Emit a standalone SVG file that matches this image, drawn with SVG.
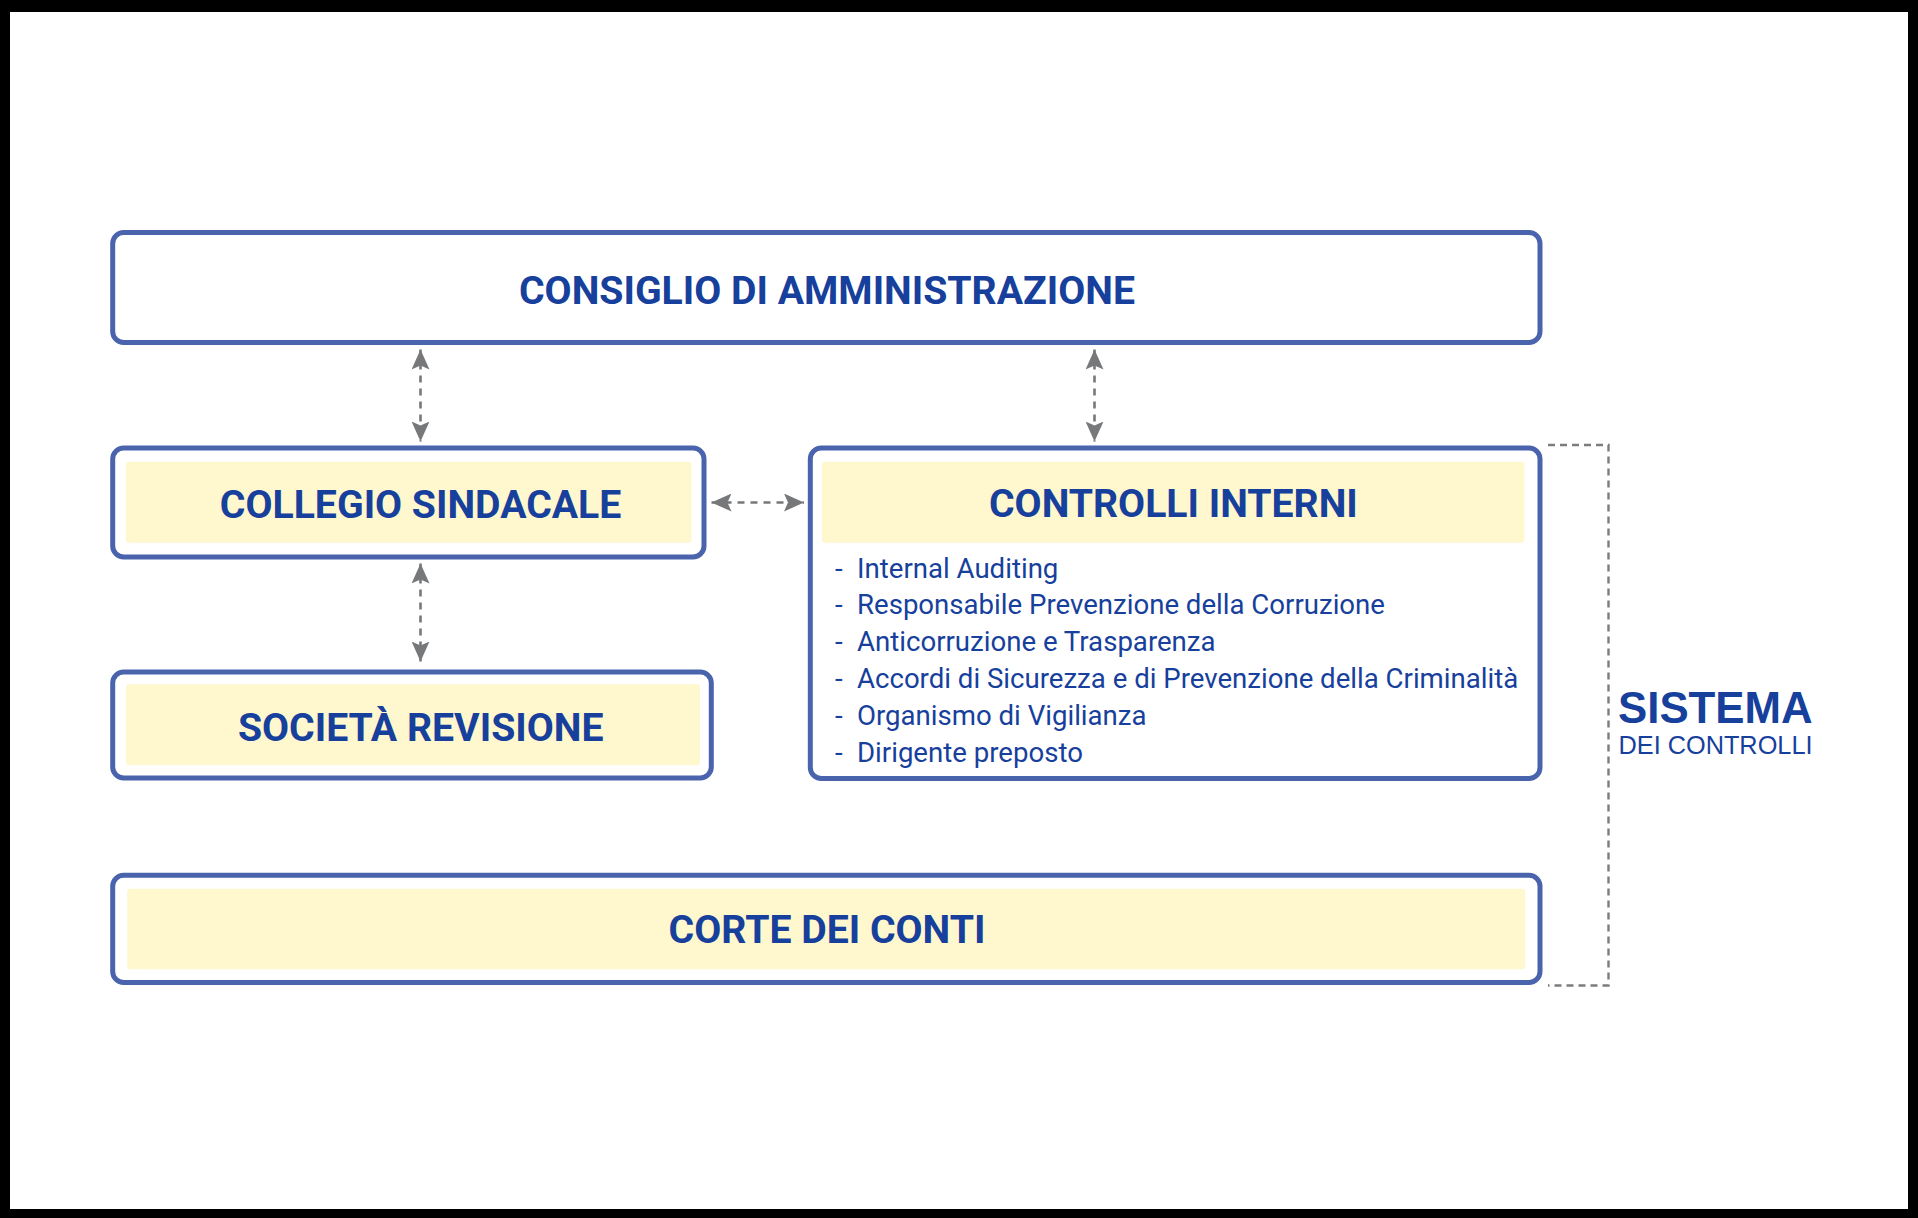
<svg xmlns="http://www.w3.org/2000/svg" width="1918" height="1218" viewBox="0 0 1918 1218">
<style>
.box{fill:#ffffff;stroke:#4A63AD;stroke-width:5}
.hl{fill:#FFF7CE}
.title{font-family:Roboto,"Liberation Sans",sans-serif;font-weight:700;font-size:39.2px;fill:#16409C;text-anchor:middle}
.item{font-family:Roboto,"Liberation Sans",sans-serif;font-weight:400;font-size:27.6px;fill:#16409C}
.conn{stroke:#76787A;stroke-width:2.6;stroke-dasharray:7 6;fill:none}
.brk{stroke:#7A7C7E;stroke-width:2.4;stroke-dasharray:7 5;fill:none}
.sys{font-family:"Liberation Sans",Arial,sans-serif;fill:#16409C}
</style>
<defs>
<marker id="ah" viewBox="0 0 20 18" refX="20" refY="9" markerWidth="20" markerHeight="18" markerUnits="userSpaceOnUse" orient="auto-start-reverse">
<path d="M0,0 L20,9 L0,18 L4,9 Z" fill="#76787A"/>
</marker>
</defs>
<rect x="0" y="0" width="1918" height="1218" fill="#000000"/>
<rect x="10" y="12" width="1898" height="1197" fill="#ffffff"/>

<g id="connectors">
<line class="conn" x1="420.5" y1="349.5" x2="420.5" y2="441.5" marker-start="url(#ah)" marker-end="url(#ah)"/>
<line class="conn" x1="1094.5" y1="349.5" x2="1094.5" y2="441.5" marker-start="url(#ah)" marker-end="url(#ah)"/>
<line class="conn" x1="420.5" y1="563.5" x2="420.5" y2="661.5" marker-start="url(#ah)" marker-end="url(#ah)"/>
<line class="conn" x1="711.5" y1="502.5" x2="804" y2="502.5" marker-start="url(#ah)" marker-end="url(#ah)"/>
<path class="brk" d="M1548,445 H1608.5 V985.5 H1548"/>
</g>

<g id="consiglio">
<rect class="box" x="112.7" y="232.5" width="1427.3" height="110" rx="11"/>
<text class="title" x="827" y="303.5">CONSIGLIO DI AMMINISTRAZIONE</text>
</g>

<g id="collegio">
<rect class="box" x="112.7" y="448" width="591.3" height="109" rx="11"/>
<rect class="hl" x="126" y="461.7" width="565.5" height="81" rx="3"/>
<text class="title" x="420.6" y="517.5">COLLEGIO SINDACALE</text>
</g>

<g id="controlli">
<rect class="box" x="810.3" y="448" width="729.7" height="330.5" rx="11"/>
<rect class="hl" x="822" y="461.7" width="702.4" height="81" rx="3"/>
<text class="title" x="1173.4" y="517.3">CONTROLLI INTERNI</text>
<text class="item" y="577.5"><tspan x="835">-</tspan><tspan x="857">Internal Auditing</tspan></text>
<text class="item" y="614"><tspan x="835">-</tspan><tspan x="857">Responsabile Prevenzione della Corruzione</tspan></text>
<text class="item" y="651"><tspan x="835">-</tspan><tspan x="857">Anticorruzione e Trasparenza</tspan></text>
<text class="item" y="688"><tspan x="835">-</tspan><tspan x="857">Accordi di Sicurezza e di Prevenzione della Criminalità</tspan></text>
<text class="item" y="725"><tspan x="835">-</tspan><tspan x="857">Organismo di Vigilianza</tspan></text>
<text class="item" y="761.5"><tspan x="835">-</tspan><tspan x="857">Dirigente preposto</tspan></text>
</g>

<g id="societa">
<rect class="box" x="112.7" y="672" width="598.6" height="106" rx="11"/>
<rect class="hl" x="126" y="684.3" width="574" height="81" rx="3"/>
<text class="title" x="420.7" y="740.7">SOCIETÀ REVISIONE</text>
</g>

<g id="corte">
<rect class="box" x="112.7" y="875.3" width="1427.3" height="107.2" rx="11"/>
<rect class="hl" x="127.3" y="888.7" width="1398" height="80.6" rx="3"/>
<text class="title" x="827" y="943">CORTE DEI CONTI</text>
</g>

<g id="sistema">
<text class="sys" x="1618" y="723" font-size="43.8" font-weight="700">SISTEMA</text>
<text class="sys" x="1618.5" y="754" font-size="25.3">DEI CONTROLLI</text>
</g>
</svg>
